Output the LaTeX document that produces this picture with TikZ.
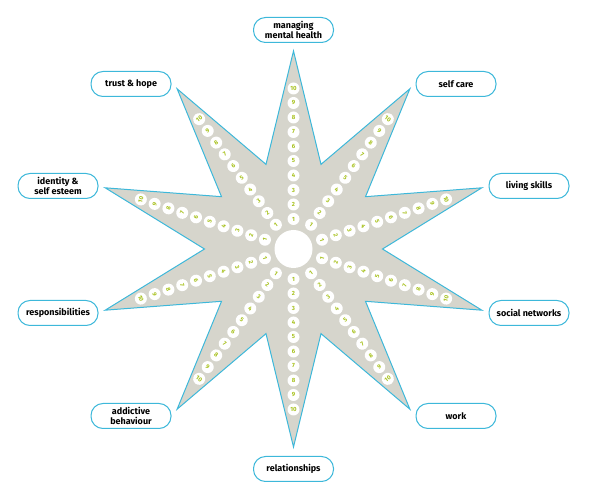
\documentclass[tikz,border=0pt]{standalone}
\usepackage{fontspec}
\setmainfont{Fira Sans}
\definecolor{starfill}{HTML}{D6D5CC}
\definecolor{starline}{HTML}{3DB8DA}
\definecolor{numcol}{HTML}{A8C21E}
\begin{document}
\begin{tikzpicture}[x=1pt,y=1pt,
  labelbox/.style={draw=starline, line width=1pt, fill=white, rounded corners=12pt,
    minimum width=80pt, minimum height=25pt, align=center, inner sep=1pt,
    font=\bfseries\fontsize{9}{10.5}\selectfont},
  numdot/.style={circle, fill=white, minimum size=12pt, inner sep=0pt, text=numcol,
    font=\bfseries\fontsize{6}{6.5}\selectfont},
  starpath/.style={draw=starline, fill=starfill, line width=1pt, line join=miter}]
\useasboundingbox (0,0) rectangle (590,496);
\begin{scope}[shift={(293.5,247)}]
  \draw[starpath] (90:198) \foreach \i in {0,...,8}{ -- ({72-36*\i}:89) -- ({54-36*\i}:198)} -- (108:89) -- cycle;
  \node[circle, fill=white, minimum size=38pt, inner sep=0pt] (hub) at (0,0) {};
  \foreach \a [count=\j] in {90,54,18,-18,-54,-90,-126,-162,162,126}{
    \pgfmathsetmacro\rot{sin(\a)>0 ? \a-90 : \a+90}
    \foreach \k in {1,...,10}{
      \node[numdot, rotate=\rot] (n\j-\k) at (\a:{30+14.5*(\k-1)}) {\k};
    }
  }
\end{scope}
\node[labelbox] (mmh) at (293.5,466) {managing\\mental health};
\node[labelbox] (sc) at (456,412) {self care};
\node[labelbox] (ls) at (529,310) {living skills};
\node[labelbox] (sn) at (529,183) {social networks};
\node[labelbox] (wk) at (456,80) {work};
\node[labelbox] (rel) at (293.5,27) {relationships};
\node[labelbox] (ab) at (131,80) {addictive\\behaviour};
\node[labelbox] (resp) at (58,183) {responsibilities};
\node[labelbox] (ise) at (58,310) {identity \&\\self esteem};
\node[labelbox] (th) at (131,412) {trust \& hope};
\end{tikzpicture}
\end{document}
